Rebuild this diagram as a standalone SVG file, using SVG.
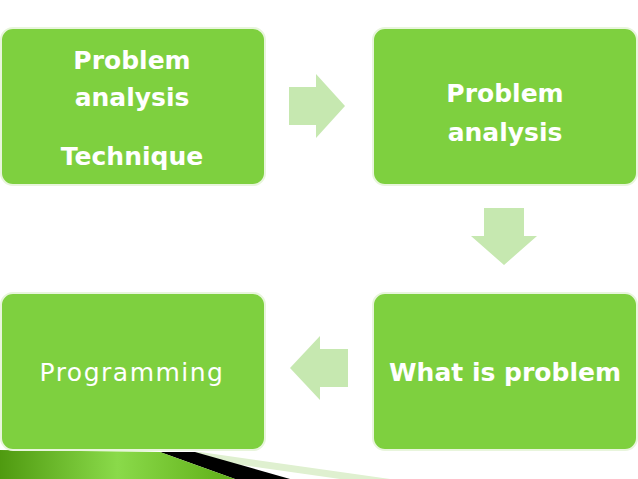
<svg xmlns="http://www.w3.org/2000/svg" width="638" height="479" viewBox="0 0 638 479">
<defs>
<style>
.box{fill:#7ed03f;stroke:#e8f5dc;stroke-width:2}
.t{fill:#fff;font-family:"DejaVu Sans",sans-serif;font-size:25px;font-weight:bold;text-anchor:middle}
.ar{fill:#c6e8b0}
</style>
<linearGradient id="g" x1="0" x2="1"><stop offset="0" stop-color="#4f9a10"/><stop offset="0.5" stop-color="#8ada4a"/><stop offset="1" stop-color="#5fae16"/></linearGradient>
</defs>
<rect width="638" height="479" fill="#fff"/>
<g id="deco">
<polygon points="340,479 390,479 200,452 150,452" fill="#dff0d0"/>
<polygon points="160,452 195,452 290,479 235,479" fill="#000"/>
<polygon points="0,450 160,452 235,479 0,479" fill="url(#g)"/>
</g>
<g id="connectors">
<polygon class="ar" points="289,87 316,87 316,74 345,106 316,138 316,125 289,125"/>
<polygon class="ar" points="484,208 524,208 524,236 537,236 504,265 471,236 484,236"/>
<polygon class="ar" points="348,349 320,349 320,336 290,368 320,400 320,387 348,387"/>
</g>
<g id="n1"><rect class="box" x="1" y="28" width="264" height="157" rx="12"/>
<text class="t" x="132" y="69">Problem</text><text class="t" x="132" y="106">analysis</text><text class="t" x="132" y="165">Technique</text></g>
<g id="n2"><rect class="box" x="373" y="28" width="264" height="157" rx="12"/>
<text class="t" x="505" y="102">Problem</text><text class="t" x="505" y="141">analysis</text></g>
<g id="n3"><rect class="box" x="1" y="293" width="264" height="157" rx="12"/>
<text class="t" x="132" y="381" style="font-weight:normal;letter-spacing:1.5px">Programming</text></g>
<g id="n4"><rect class="box" x="373" y="293" width="264" height="157" rx="12"/>
<text class="t" x="505" y="381">What is problem</text></g>
</svg>
